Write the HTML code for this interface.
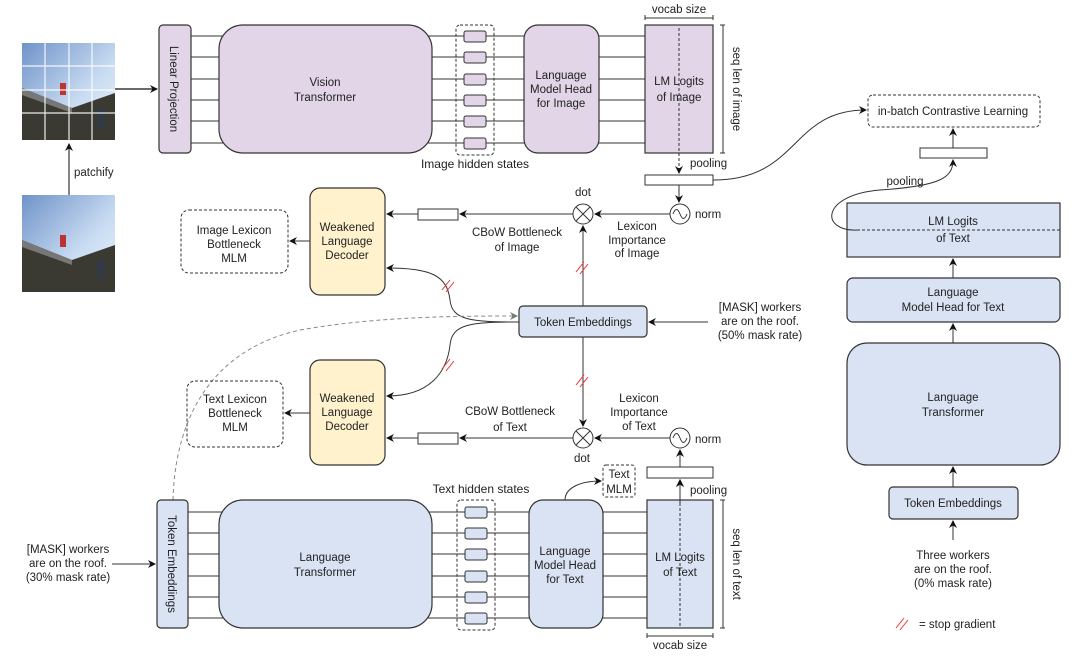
<!DOCTYPE html>
<html><head><meta charset="utf-8"><style>
html,body{margin:0;padding:0;background:#fff;}
svg{display:block;font-family:"Liberation Sans",Arial,sans-serif;}
text{font-size:11.5px;fill:#222;}
</style></head><body>
<svg width="1080" height="661" viewBox="0 0 1080 661" xmlns="http://www.w3.org/2000/svg">
<defs>
<marker id="a" markerWidth="8" markerHeight="8" refX="7" refY="4" orient="auto" markerUnits="userSpaceOnUse">
<path d="M0,0 L8,4 L0,8 L2.5,4 z" fill="#111"/></marker>
<marker id="g" markerWidth="8" markerHeight="8" refX="7" refY="4" orient="auto" markerUnits="userSpaceOnUse">
<path d="M0,0 L8,4 L0,8 L2.5,4 z" fill="#777"/></marker>
<linearGradient id="sky" x1="0" y1="0" x2="1" y2="1"><stop offset="0" stop-color="#6f93c8"/><stop offset="0.6" stop-color="#c9dcf2"/><stop offset="1" stop-color="#eef4fb"/></linearGradient>
<g id="photo">
<rect x="0" y="0" width="93" height="97" fill="url(#sky)"/>
<polygon points="0,45 50,65 93,50 93,97 0,97" fill="#3a3a33"/>
<polygon points="0,45 50,65 50,70 0,52" fill="#777"/>
<rect x="38" y="40" width="6" height="12" fill="#b33"/>
<rect x="75" y="65" width="8" height="20" fill="#333a44"/>
</g>
</defs>

<!-- photos -->
<use href="#photo" x="22" y="43"/>
<g stroke="#fff" stroke-width="1.2" opacity="0.9">
<line x1="45" y1="43" x2="45" y2="140"/><line x1="69" y1="43" x2="69" y2="140"/><line x1="92" y1="43" x2="92" y2="140"/>
<line x1="22" y1="66" x2="115" y2="66"/><line x1="22" y1="90" x2="115" y2="90"/><line x1="22" y1="113" x2="115" y2="113"/>
</g>
<use href="#photo" x="22" y="195"/>
<line x1="69" y1="195" x2="69" y2="144" stroke="#333" stroke-width="1.2" marker-end="url(#a)"/>
<text x="74" y="176">patchify</text>
<line x1="115" y1="89" x2="157" y2="89" stroke="#111" stroke-width="1.2" marker-end="url(#a)"/>

<!-- top row lines -->
<g stroke="#333" stroke-width="1.1">
<line x1="190" y1="36" x2="645" y2="36"/><line x1="190" y1="57" x2="645" y2="57"/><line x1="190" y1="79" x2="645" y2="79"/>
<line x1="190" y1="100" x2="645" y2="100"/><line x1="190" y1="121" x2="645" y2="121"/><line x1="190" y1="143" x2="645" y2="143"/>
</g>
<g stroke="#333" stroke-width="1.2" fill="#e1d5e7">
<rect x="159" y="25" width="32" height="128" rx="4"/>
<rect x="219" y="25" width="213" height="128" rx="24"/>
<rect x="524" y="25" width="75" height="128" rx="14"/>
<rect x="645" y="25" width="68" height="128"/>
</g>
<rect x="456" y="25" width="38" height="130" rx="4" fill="none" stroke="#333" stroke-dasharray="3,2"/>
<g stroke="#333" fill="#e1d5e7">
<rect x="464" y="31" width="22" height="11" rx="2"/><rect x="464" y="52" width="22" height="11" rx="2"/><rect x="464" y="74" width="22" height="11" rx="2"/>
<rect x="464" y="95" width="22" height="11" rx="2"/><rect x="464" y="116" width="22" height="11" rx="2"/><rect x="464" y="138" width="22" height="11" rx="2"/>
</g>
<text transform="translate(170,89) rotate(90)" text-anchor="middle">Linear Projection</text>
<text x="325" y="86" text-anchor="middle">Vision</text><text x="325" y="101" text-anchor="middle">Transformer</text>
<text x="561" y="79" text-anchor="middle">Language</text><text x="561" y="93" text-anchor="middle">Model Head</text><text x="561" y="107" text-anchor="middle">for Image</text>
<text x="679" y="85" text-anchor="middle">LM Logits</text><text x="679" y="101" text-anchor="middle">of Image</text>
<text x="475" y="168" text-anchor="middle" style="font-size:12px">Image hidden states</text>
<path d="M645,15 v5 M645,18 H713 M713,15 v5" stroke="#333" fill="none"/>
<text x="679" y="13" text-anchor="middle">vocab size</text>
<path d="M720,25 h5 M723,25 V153 M720,153 h5" stroke="#333" fill="none"/>
<text transform="translate(733,89) rotate(90)" text-anchor="middle">seq len of image</text>
<line x1="679" y1="28" x2="679" y2="173" stroke="#333" stroke-dasharray="3,2" marker-end="url(#a)"/>
<text x="690" y="167">pooling</text>
<rect x="645" y="175" width="68" height="10" fill="#fff" stroke="#333"/>
<line x1="679" y1="185" x2="679" y2="202" stroke="#333" marker-end="url(#a)"/>
<circle cx="680" cy="214" r="10" fill="#fff" stroke="#333"/>
<path d="M673,214 q3.5,-9 7,0 t7,0" fill="none" stroke="#333"/>
<text x="695" y="218">norm</text>
<line x1="670" y1="214" x2="595" y2="214" stroke="#333" marker-end="url(#a)"/>
<circle cx="583" cy="214" r="10" fill="#fff" stroke="#333"/>
<path d="M576,207 L590,221 M590,207 L576,221" stroke="#333"/>
<text x="583" y="196" text-anchor="middle">dot</text>
<text x="637" y="230" text-anchor="middle">Lexicon</text><text x="637" y="244" text-anchor="middle">Importance</text><text x="637" y="257" text-anchor="middle">of Image</text>
<line x1="573" y1="214" x2="460" y2="214" stroke="#333" marker-end="url(#a)"/>
<rect x="418" y="209" width="40" height="11" fill="#fff" stroke="#333"/>
<line x1="418" y1="214" x2="387" y2="214" stroke="#333" marker-end="url(#a)"/>
<text x="517" y="236" text-anchor="middle">CBoW Bottleneck</text><text x="517" y="251" text-anchor="middle">of Image</text>
<rect x="310" y="188" width="75" height="107" rx="10" fill="#fff2cc" stroke="#333" stroke-width="1.2"/>
<text x="347" y="231" text-anchor="middle">Weakened</text><text x="347" y="245" text-anchor="middle">Language</text><text x="347" y="259" text-anchor="middle">Decoder</text>
<rect x="181" y="210" width="107" height="63" rx="8" fill="none" stroke="#333" stroke-dasharray="3,2"/>
<text x="234" y="234" text-anchor="middle">Image Lexicon</text><text x="234" y="248" text-anchor="middle">Bottleneck</text><text x="234" y="262" text-anchor="middle">MLM</text>
<line x1="310" y1="241" x2="290" y2="241" stroke="#333" marker-end="url(#a)"/>

<!-- token embeddings mid -->
<path d="M519,322 C470,322 452,320 450,300 C447,275 430,268 387,268" fill="none" stroke="#333" marker-end="url(#a)"/>
<path d="M519,322 C470,322 452,324 450,345 C447,372 430,396 387,396" fill="none" stroke="#333" marker-end="url(#a)"/>
<path d="M173,500 C175,420 210,350 300,330 C380,316 460,316 517,316" fill="none" stroke="#888" stroke-dasharray="4,3" marker-end="url(#g)"/>
<line x1="583" y1="306" x2="583" y2="226" stroke="#333" marker-end="url(#a)"/>
<line x1="583" y1="337" x2="583" y2="426" stroke="#333" marker-end="url(#a)"/>
<g stroke="#e33" stroke-width="1">
<path d="M442,290 l8,-10 M446,292 l8,-10"/><path d="M442,369 l8,-10 M446,371 l8,-10"/>
<path d="M576,272 l8,-10 M580,274 l8,-10"/><path d="M576,385 l8,-10 M580,387 l8,-10"/>
<path d="M896,628 l8,-10 M900,630 l8,-10"/>
</g>
<rect x="519" y="306" width="128" height="31" rx="4" fill="#dae3f3" stroke="#333" stroke-width="1.2"/>
<text x="583" y="326" text-anchor="middle">Token Embeddings</text>
<line x1="708" y1="322" x2="649" y2="322" stroke="#333" marker-end="url(#a)"/>
<text x="760" y="311" text-anchor="middle">[MASK] workers</text><text x="760" y="325" text-anchor="middle">are on the roof.</text><text x="760" y="339" text-anchor="middle">(50% mask rate)</text>

<!-- lower decoder -->
<rect x="310" y="360" width="75" height="105" rx="10" fill="#fff2cc" stroke="#333" stroke-width="1.2"/>
<text x="347" y="402" text-anchor="middle">Weakened</text><text x="347" y="416" text-anchor="middle">Language</text><text x="347" y="430" text-anchor="middle">Decoder</text>
<rect x="187" y="381" width="96" height="66" rx="8" fill="none" stroke="#333" stroke-dasharray="3,2"/>
<text x="235" y="403" text-anchor="middle">Text Lexicon</text><text x="235" y="417" text-anchor="middle">Bottleneck</text><text x="235" y="431" text-anchor="middle">MLM</text>
<line x1="310" y1="413" x2="285" y2="413" stroke="#333" marker-end="url(#a)"/>
<line x1="573" y1="438" x2="460" y2="438" stroke="#333" marker-end="url(#a)"/>
<rect x="418" y="433" width="40" height="11" fill="#fff" stroke="#333"/>
<line x1="418" y1="438" x2="387" y2="438" stroke="#333" marker-end="url(#a)"/>
<text x="510" y="415" text-anchor="middle">CBoW Bottleneck</text><text x="510" y="431" text-anchor="middle">of Text</text>
<circle cx="583" cy="438" r="10" fill="#fff" stroke="#333"/>
<path d="M576,431 L590,445 M590,431 L576,445" stroke="#333"/>
<text x="582" y="462" text-anchor="middle">dot</text>
<line x1="670" y1="438" x2="595" y2="438" stroke="#333" marker-end="url(#a)"/>
<circle cx="680" cy="438" r="10" fill="#fff" stroke="#333"/>
<path d="M673,438 q3.5,-9 7,0 t7,0" fill="none" stroke="#333"/>
<text x="695" y="443">norm</text>
<text x="639" y="402" text-anchor="middle">Lexicon</text><text x="639" y="416" text-anchor="middle">Importance</text><text x="639" y="430" text-anchor="middle">of Text</text>
<rect x="647" y="467" width="66" height="11" fill="#fff" stroke="#333"/>
<line x1="680" y1="467" x2="680" y2="450" stroke="#333" marker-end="url(#a)"/>
<line x1="680" y1="626" x2="680" y2="480" stroke="#333" stroke-dasharray="3,2" marker-end="url(#a)"/>
<text x="690" y="494">pooling</text>
<rect x="603" y="465" width="32" height="32" rx="3" fill="none" stroke="#333" stroke-dasharray="3,2"/>
<text x="619" y="478" text-anchor="middle">Text</text><text x="619" y="493" text-anchor="middle">MLM</text>
<path d="M565,500 C565,488 580,481 601,481" fill="none" stroke="#333" marker-end="url(#a)"/>
<text x="481" y="493" text-anchor="middle" style="font-size:12px">Text hidden states</text>

<!-- bottom row -->
<g stroke="#333" stroke-width="1.1">
<line x1="188" y1="512" x2="647" y2="512"/><line x1="188" y1="533" x2="647" y2="533"/><line x1="188" y1="554" x2="647" y2="554"/>
<line x1="188" y1="576" x2="647" y2="576"/><line x1="188" y1="597" x2="647" y2="597"/><line x1="188" y1="618" x2="647" y2="618"/>
</g>
<g stroke="#333" stroke-width="1.2" fill="#dae3f3">
<rect x="157" y="500" width="31" height="128" rx="4"/>
<rect x="219" y="500" width="213" height="128" rx="24"/>
<rect x="529" y="500" width="74" height="128" rx="14"/>
<rect x="647" y="500" width="66" height="128"/>
</g>
<line x1="680" y1="626" x2="680" y2="505" stroke="#333" stroke-dasharray="3,2"/>
<line x1="680" y1="505" x2="680" y2="480" stroke="#333" marker-end="url(#a)"/>
<rect x="457" y="500" width="38" height="130" rx="4" fill="none" stroke="#333" stroke-dasharray="3,2"/>
<g stroke="#333" fill="#dae3f3">
<rect x="465" y="507" width="22" height="11" rx="2"/><rect x="465" y="528" width="22" height="11" rx="2"/><rect x="465" y="549" width="22" height="11" rx="2"/>
<rect x="465" y="571" width="22" height="11" rx="2"/><rect x="465" y="592" width="22" height="11" rx="2"/><rect x="465" y="613" width="22" height="11" rx="2"/>
</g>
<text transform="translate(168,564) rotate(90)" text-anchor="middle">Token Embeddings</text>
<text x="325" y="561" text-anchor="middle">Language</text><text x="325" y="576" text-anchor="middle">Transformer</text>
<text x="565" y="555" text-anchor="middle">Language</text><text x="565" y="569" text-anchor="middle">Model Head</text><text x="565" y="583" text-anchor="middle">for Text</text>
<text x="680" y="561" text-anchor="middle">LM Logits</text><text x="680" y="576" text-anchor="middle">of Text</text>
<path d="M647,633 v5 M647,636 H713 M713,633 v5" stroke="#333" fill="none"/>
<text x="680" y="649" text-anchor="middle">vocab size</text>
<path d="M720,500 h5 M723,500 V628 M720,628 h5" stroke="#333" fill="none"/>
<text transform="translate(733,564) rotate(90)" text-anchor="middle">seq len of text</text>
<line x1="112" y1="564" x2="155" y2="564" stroke="#333" marker-end="url(#a)"/>
<text x="68" y="553" text-anchor="middle">[MASK] workers</text><text x="68" y="567" text-anchor="middle">are on the roof.</text><text x="68" y="581" text-anchor="middle">(30% mask rate)</text>

<!-- right column -->
<rect x="868" y="95" width="172" height="32" rx="5" fill="none" stroke="#333" stroke-dasharray="3,2"/>
<text x="953" y="115" text-anchor="middle">in-batch Contrastive Learning</text>
<path d="M713,180 C800,180 790,110 866,110" fill="none" stroke="#333" marker-end="url(#a)"/>
<rect x="920" y="148" width="67" height="10" fill="#fff" stroke="#333"/>
<line x1="953" y1="148" x2="953" y2="129" stroke="#333" marker-end="url(#a)"/>
<rect x="847" y="203" width="213" height="54" fill="#dae3f3" stroke="#333" stroke-width="1.2"/>
<line x1="1060" y1="230" x2="858" y2="230" stroke="#333" stroke-dasharray="3,2"/>
<path d="M858,230 C820,232 820,195 880,190 C940,186 953,178 953,160" fill="none" stroke="#333" marker-end="url(#a)"/>
<text x="905" y="185" text-anchor="middle">pooling</text>
<text x="953" y="225" text-anchor="middle">LM Logits</text><text x="953" y="242" text-anchor="middle">of Text</text>
<line x1="953" y1="278" x2="953" y2="259" stroke="#333" marker-end="url(#a)"/>
<rect x="847" y="278" width="213" height="44" rx="6" fill="#dae3f3" stroke="#333" stroke-width="1.2"/>
<text x="953" y="296" text-anchor="middle">Language</text><text x="953" y="311" text-anchor="middle">Model Head for Text</text>
<line x1="953" y1="343" x2="953" y2="324" stroke="#333" marker-end="url(#a)"/>
<rect x="847" y="343" width="213" height="122" rx="20" fill="#dae3f3" stroke="#333" stroke-width="1.2"/>
<text x="953" y="401" text-anchor="middle">Language</text><text x="953" y="416" text-anchor="middle">Transformer</text>
<line x1="953" y1="487" x2="953" y2="467" stroke="#333" marker-end="url(#a)"/>
<rect x="889" y="487" width="129" height="32" rx="4" fill="#dae3f3" stroke="#333" stroke-width="1.2"/>
<text x="953" y="507" text-anchor="middle">Token Embeddings</text>
<line x1="953" y1="540" x2="953" y2="521" stroke="#333" marker-end="url(#a)"/>
<text x="953" y="559" text-anchor="middle">Three workers</text><text x="953" y="573" text-anchor="middle">are on the roof.</text><text x="953" y="587" text-anchor="middle">(0% mask rate)</text>
<text x="919" y="628">= stop gradient</text>
</svg>
</body></html>
